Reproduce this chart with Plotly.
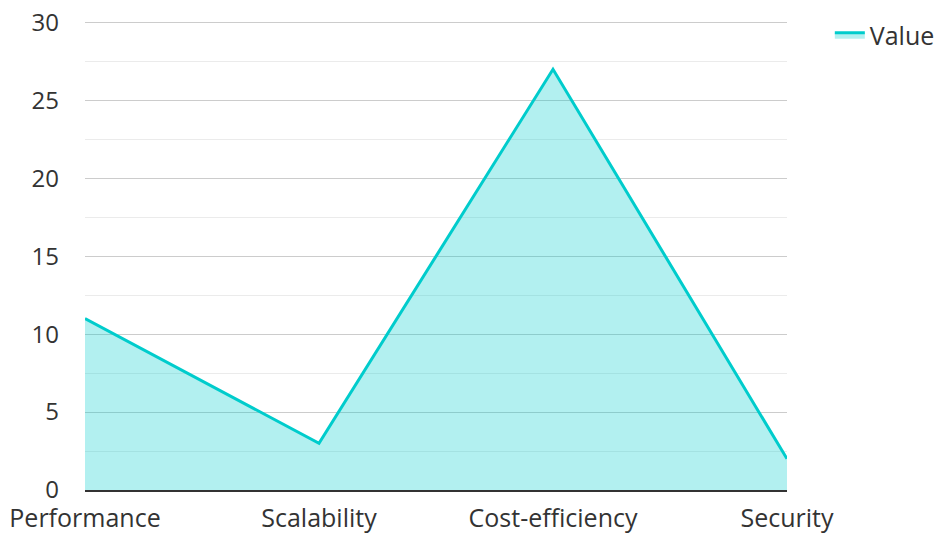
import plotly.graph_objects as go

categories = ["Performance", "Scalability", "Cost-efficiency", "Security"]
values = [11, 3, 27, 2]
series_name = "Value"

fig = go.Figure()
fig.add_trace(go.Scatter(
    x=categories, y=values, name=series_name, mode="lines",
    line=dict(color="#00cccc", width=3),
    fill="tozeroy", fillcolor="rgba(0,204,204,0.3)",
    showlegend=True,
))

fig.update_layout(
    width=936, height=533,
    margin=dict(l=85, r=149, t=21, b=43, autoexpand=False),
    paper_bgcolor="white", plot_bgcolor="white",
    font=dict(family="Open Sans", size=24, color="#333333"),
    showlegend=True,
    legend=dict(x=1.061, y=1.019, xanchor="left", yanchor="top",
                font=dict(size=25, color="#333333"), bgcolor="rgba(0,0,0,0)"),
    xaxis=dict(
        showgrid=False, showline=True, linecolor="#333333", linewidth=2,
        ticks="", ticklabelstandoff=5, range=[0, 3], zeroline=False, automargin=False,
        tickfont=dict(size=25), ticklabeloverflow="allow",
    ),
    yaxis=dict(
        range=[0, 30.1], dtick=5, showgrid=True, gridcolor="#cccccc", gridwidth=1,
        minor=dict(dtick=2.5, showgrid=True, gridcolor="#ebebeb", gridwidth=1),
        zeroline=False, showline=False, ticks="", ticklabelstandoff=25, automargin=False,
        tickfont=dict(size=24), ticklabeloverflow="allow",
    ),
)

fig.write_html(
    "out.html",
    config={"displayModeBar": False},
    post_script="document.body.style.margin='0';document.body.style.overflow='hidden';",
)
